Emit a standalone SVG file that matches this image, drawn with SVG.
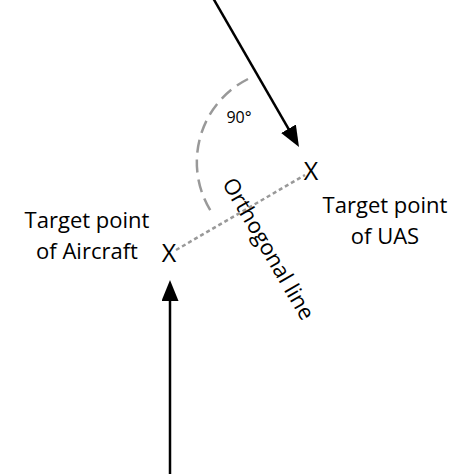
<svg xmlns="http://www.w3.org/2000/svg" width="474" height="474" viewBox="0 0 474 474">
<style>
text{font-family:"Open Sans","Liberation Sans",sans-serif;fill:#000}
.lbl{font-size:22px;text-anchor:middle}
.x{font-size:25px;text-anchor:middle}
.arrow{stroke:#000;stroke-width:2.5;fill:none}
.dot{stroke:#999;stroke-width:2.5;stroke-dasharray:4 3;fill:none}
.arc{stroke:#999;stroke-width:2.5;stroke-dasharray:13 7;fill:none}
</style>
<defs>
<marker id="ah" markerUnits="userSpaceOnUse" markerWidth="22" markerHeight="18" refX="11" refY="8.5" orient="auto" viewBox="0 0 22 18">
<path d="M0,0 L21,8.5 L0,17 Z" fill="#000"/>
</marker>
</defs>
<rect width="474" height="474" fill="#fff"/>
<g id="connectors">
<line id="uas-path" class="arrow" x1="213" y1="-2" x2="294" y2="138.3" marker-end="url(#ah)"/>
<line id="aircraft-path" class="arrow" x1="170" y1="476" x2="170" y2="290" marker-end="url(#ah)"/>
<line id="orthogonal" class="dot" x1="176" y1="250" x2="305" y2="175"/>
<path id="angle-arc" class="arc" d="M248,79 A93,93 0 0 0 212,213"/>
</g>
<g id="uas-target">
<text class="x" x="311" y="180">X</text>
<text class="lbl" x="385" y="213">Target point</text>
<text class="lbl" x="385" y="244">of UAS</text>
</g>
<g id="aircraft-target">
<text class="x" x="169" y="262">X</text>
<text class="lbl" x="87" y="228">Target point</text>
<text class="lbl" x="87" y="259">of Aircraft</text>
</g>
<g id="angle-label">
<text x="239" y="123" style="font-size:16px;text-anchor:middle">90°</text>
</g>
<g id="orthogonal-label">
<text class="lbl" transform="translate(268,249) rotate(59.8)" x="0" y="7">Orthogonal line</text>
</g>
</svg>
